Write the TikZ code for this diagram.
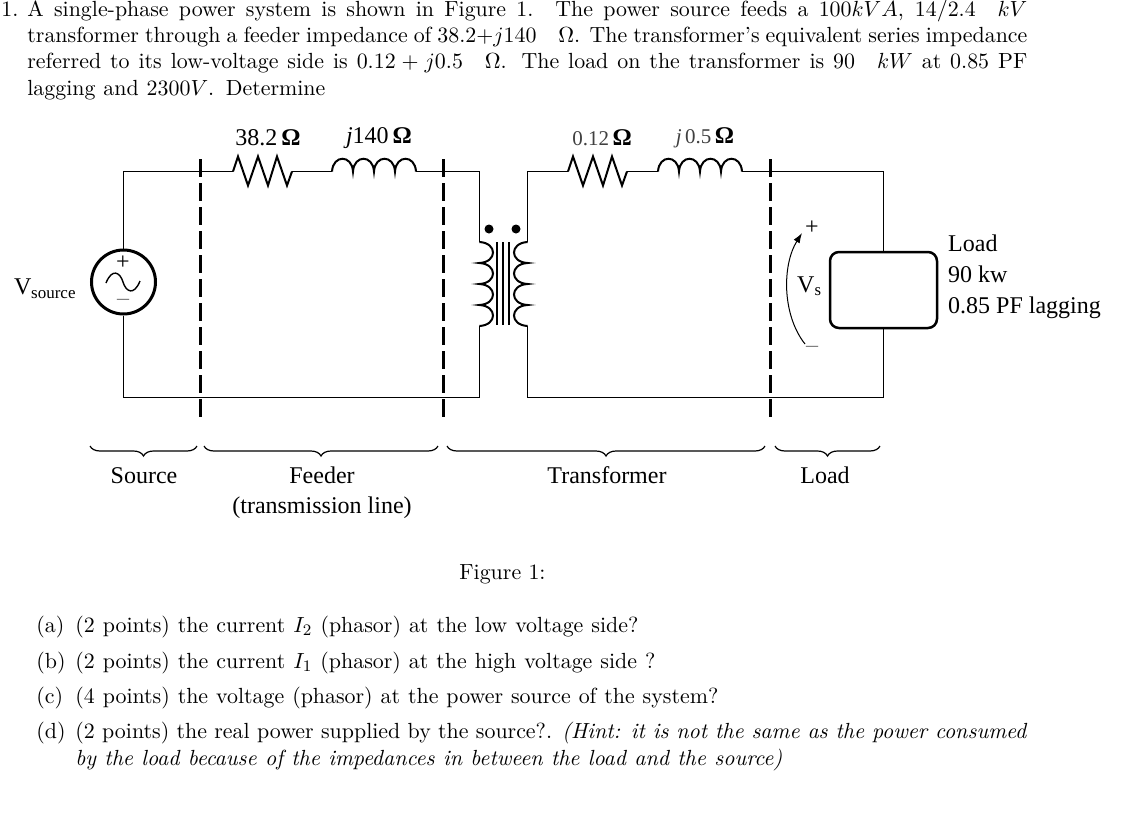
\documentclass[tikz,border=0pt]{standalone}
\usepackage{fontspec}
\usetikzlibrary{arrows.meta,calc,decorations.pathreplacing}
\newfontfamily\figfont{Liberation Serif}
\tikzset{
    wire/.style = {
    	line width=1pt,
    	black
    },
    boundary/.style = {
    	line width=3pt,
    	black,
    	dash pattern=on 18pt off 6pt
    },
    element/.style = {
    	line width=2pt,
    	black
    },
    bracket/.style = {
    	line width=1.2pt,
    	decorate,
    	decoration={brace,mirror,amplitude=10pt}
    },
    body/.style = {
    	anchor=base west,
    	inner sep=0pt,
    	scale=2,
    	transform shape,
    	font=\fontsize{10.95}{13}\selectfont
    },
    figlabel/.style = {
    	inner sep=0pt,
    	font=\figfont\fontsize{24}{28}\selectfont
    },
    pole/.style = {
    	inner sep=0pt,
    	font=\figfont\fontsize{24}{28}\selectfont
    },
    resistor/.pic = {
    	\draw[element, line join=miter] (0,0) -- (5,-15) -- (15,14) -- (25,-15) -- (35,14) -- (44,-15) -- (54,14) -- (59,0);
    },
    inductor/.pic = {
    	\draw[element] (0,0) \foreach \i in {1,...,4} { .. controls +(1,-17) and +(-1,-17) .. ++(21,0) };
    },
    coilright/.pic = {
    	\draw[element] (0,0) \foreach \i in {1,...,4} { .. controls +(18,1) and +(18,-1) .. ++(0,21) };
    },
    coilleft/.pic = {
    	\draw[element] (0,0) \foreach \i in {1,...,4} { .. controls +(-18,1) and +(-18,-1) .. ++(0,21) };
    }
}

\begin{document}
\begin{tikzpicture}[x=1pt,y=-1pt]
	\useasboundingbox (0,0) rectangle (1136,836);

	% Problem statement
	\node[body] (num) at (1,16) {1.};
	\node[body] (line1) at (27,16) {\makebox[500pt][s]{A single-phase power system is shown in Figure 1.\quad The power source feeds a 100$kVA$, 14/2.4\quad $kV$}};
	\node[body] (line2) at (27,42) {\makebox[500pt][s]{transformer through a feeder impedance of 38.2+$j$140\quad $\Omega$. The transformer's equivalent series impedance}};
	\node[body] (line3) at (27,68) {\makebox[500pt][s]{referred to its low-voltage side is $0.12+j0.5$\quad $\Omega$. The load on the transformer is 90\quad $kW$ at 0.85 PF}};
	\node[body] (line4) at (27,95) {\makebox[149pt][s]{lagging and 2300$V$. Determine}};

	% Important coordinates
	\coordinate (TL) at (123.5,171.5);
	\coordinate (BL) at (123.5,397.5);
	\coordinate (T1) at (479.5,171.5);
	\coordinate (B1) at (479.5,397.5);
	\coordinate (C1a) at (479.5,242);
	\coordinate (C1b) at (479.5,326);
	\coordinate (T2) at (527.5,171.5);
	\coordinate (B2) at (527.5,397.5);
	\coordinate (C2a) at (527.5,242);
	\coordinate (C2b) at (527.5,326);
	\coordinate (TR) at (883.5,171.5);
	\coordinate (BR) at (883.5,397.5);

	\coordinate (R1in) at (233,171.5);
	\path (R1in) + (59,0) coordinate (R1out);
	\coordinate (L1in) at (332,171.5);
	\path (L1in) + (84,0) coordinate (L1out);
	\coordinate (R2in) at (568,171.5);
	\path (R2in) + (59,0) coordinate (R2out);
	\coordinate (L2in) at (658,171.5);
	\path (L2in) + (84,0) coordinate (L2out);

	% Source and load
	\node[draw, circle, line width=3pt, minimum size=64pt, inner sep=0pt] (Vsrc) at (123.5,282) {};
	\node[draw, rounded corners=9pt, line width=2.5pt, minimum width=107pt, minimum height=76pt, inner sep=0pt] (loadbox) at (883.5,290) {};

	% Wires
	\draw[wire] (Vsrc) -- (TL) -- (R1in);
	\draw[wire] (R1out) -- (L1in);
	\draw[wire] (L1out) -- (T1) -- (C1a);
	\draw[wire] (C1b) -- (B1) -- (BL) -- (Vsrc);
	\draw[wire] (C2a) -- (T2) -- (R2in);
	\draw[wire] (R2out) -- (L2in);
	\draw[wire] (L2out) -- (TR) -- (loadbox);
	\draw[wire] (loadbox) -- (BR) -- (B2) -- (C2b);

	% Series elements
	\pic at (R1in) {resistor};
	\pic at (L1in) {inductor};
	\pic at (R2in) {resistor};
	\pic at (L2in) {inductor};

	% Transformer
	\pic at (C1a) {coilright};
	\pic at (C2a) {coilleft};
	\foreach \x in {497,503,509} {
		\draw[line width=1.6pt] (\x,242) -- (\x,325);
	}
	\fill (489,229) circle (4.5pt);
	\fill (516,229) circle (4.5pt);

	% Source symbol
	\draw[line width=1.4pt] (106,283) .. controls (112,268) and (120,272) .. (123,282) .. controls (126,292) and (134,296) .. (140,281);
	\node[pole] (srcplus) at (123,263) {+};
	\node[pole, text=gray] (srcminus) at (123,302) {–};

	% Boundaries
	\draw[boundary] (200,159) -- (200,418);
	\draw[boundary] (443,159) -- (443,418);
	\draw[boundary] (770,159) -- (770,418);

	% Voltage across the load
	\coordinate (Vm) at (805,344);
	\coordinate (Vp) at (802,233);
	\draw[wire, -{Latex[length=10pt,width=7pt]}] (Vm) .. controls (782,315) and (782,265) .. (Vp);
	\node[pole] (Vplus) at (812,228) {+};
	\node[pole, text=gray] (Vminus) at (812,349) {–};
	\node[figlabel, anchor=base west] (Vs) at (797,292) {V\textsubscript{s}};

	% Labels
	\node[figlabel, anchor=base west] (Vsource) at (14,294) {V};
	\node[figlabel, anchor=base west, font=\figfont\fontsize{17}{20}\selectfont] (Vsub) at (31,298) {source};
	\node[figlabel] (R1val) at (268,138) {38.2\,{\bfseries Ω}};
	\node[figlabel] (L1val) at (379,138) {\textit{j}140\,{\bfseries Ω}};
	\node[figlabel, font=\figfont\fontsize{21}{24}\selectfont, text=black!75] (R2val) at (602,138) {0.12\,\textcolor{black}{\fontsize{24}{28}\selectfont\bfseries Ω}};
	\node[figlabel, font=\figfont\fontsize{21}{24}\selectfont, text=black!75] (L2val) at (705,138) {\textit{j}\,0.5\,\textcolor{black}{\fontsize{24}{28}\selectfont\bfseries Ω}};
	\node[figlabel, anchor=base west] (loadA) at (948,251) {Load};
	\node[figlabel, anchor=base west] (loadB) at (948,282) {90 kw};
	\node[figlabel, anchor=base west] (loadC) at (948,313) {0.85 PF lagging};

	% Sections
	\draw[bracket] (90,446) -- (197,446);
	\draw[bracket] (204,446) -- (438,446);
	\draw[bracket] (447,446) -- (765,446);
	\draw[bracket] (775,446) -- (880,446);
	\node[figlabel, anchor=base] (srcname) at (144,483) {Source};
	\node[figlabel, anchor=base] (feedname) at (322,483) {Feeder};
	\node[figlabel, anchor=base] (feedname2) at (322,513) {(transmission line)};
	\node[figlabel, anchor=base] (trname) at (607,483) {Transformer};
	\node[figlabel, anchor=base] (loadname) at (825,483) {Load};

	\node[body] (caption) at (459,579) {Figure 1:};

	% Questions
	\node[body] (parta) at (36,632) {(a)};
	\node[body] (qa) at (75,632) {\makebox[281.5pt][s]{(2 points) the current $I_2$ (phasor) at the low voltage side?}};
	\node[body] (partb) at (36,668) {(b)};
	\node[body] (qb) at (75,668) {\makebox[290pt][s]{(2 points) the current $I_1$ (phasor) at the high voltage side ?}};
	\node[body] (partc) at (36,703) {(c)};
	\node[body] (qc) at (75,703) {\makebox[321.5pt][s]{(4 points) the voltage (phasor) at the power source of the system?}};
	\node[body] (partd) at (36,738) {(d)};
	\node[body] (qd) at (75,738) {\makebox[476pt][s]{(2 points) the real power supplied by the source?. \textit{(Hint: it is not the same as the power consumed}}};
	\node[body] (qd2) at (75,765) {\makebox[353.5pt][s]{\textit{by the load because of the impedances in between the load and the source)}}};

\end{tikzpicture}
\end{document}
